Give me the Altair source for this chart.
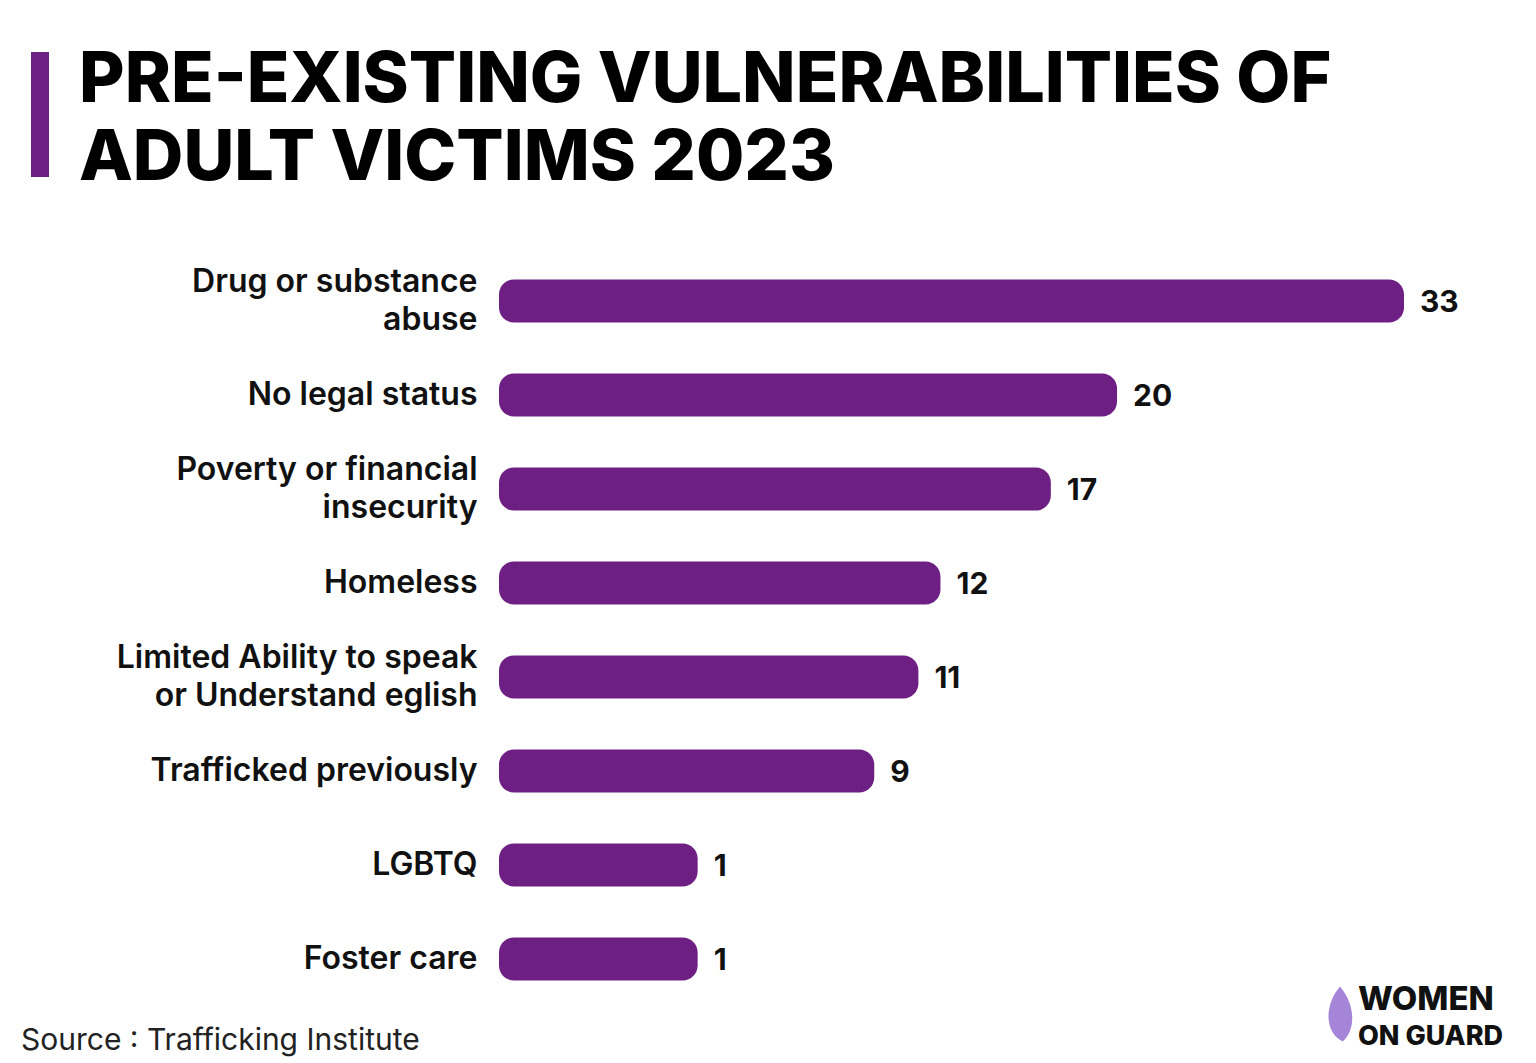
import altair as alt
import pandas as pd

# Chart values
categories = [
    "Drug or substance\nabuse",
    "No legal status",
    "Poverty or financial\ninsecurity",
    "Homeless",
    "Limited Ability to speak\nor Understand eglish",
    "Trafficked previously",
    "LGBTQ",
    "Foster care",
]
counts = [33, 20, 17, 12, 11, 9, 1, 1]

title_lines = ["PRE-EXISTING VULNERABILITIES OF", "ADULT VICTIMS 2023"]
source_text = "Source : Trafficking Institute"

PURPLE = "#6e1f84"
FONT = "Inter"
BASE = -8  # bars start at the left end of the value scale

df = pd.DataFrame({"category": categories, "count": counts})

x_scale = alt.Scale(domain=[BASE, 33], range=[0, 905], nice=False, zero=False)
y_scale = alt.Scale(paddingInner=0.54, paddingOuter=0.27)

LINE_H = 38

y_enc = alt.Y(
    "category:N",
    sort=categories,
    scale=y_scale,
    axis=alt.Axis(
        title=None,
        domain=False,
        ticks=False,
        labelPadding=22,
        labelFont=FONT,
        labelFontSize=32,
        labelFontWeight=600,
        labelColor="#111111",
        labelLimit=470,
        labelLineHeight=LINE_H,
        labelExpr="split(datum.label, '\\n')",
        # two-line labels are centred on their bar
        labelOffset={
            "condition": {"test": "indexof(datum.value, '\\n') >= 0", "value": -LINE_H / 2},
            "value": 0,
        },
    ),
)

bars = alt.Chart(df).mark_bar(color=PURPLE, cornerRadiusEnd=15).encode(
    x=alt.X("count:Q", scale=x_scale, axis=None),
    x2=alt.datum(BASE),
    y=y_enc,
)

values = alt.Chart(df).mark_text(
    align="left", baseline="middle", dx=16, dy=2,
    font=FONT, fontSize=30, fontWeight=700, color="#111111",
).encode(
    x=alt.X("count:Q", scale=x_scale),
    y=alt.Y("category:N", sort=categories, scale=y_scale),
    text=alt.Text("count:Q"),
)

one = pd.DataFrame({"k": [0]})

accent = alt.Chart(one).mark_rect(color=PURPLE).encode(
    x=alt.value(-468), x2=alt.value(-450), y=alt.value(-202), y2=alt.value(-77)
)

title1 = alt.Chart(one).mark_text(
    align="left", baseline="alphabetic", font=FONT, fontSize=70, fontWeight=800, color="#000000"
).encode(x=alt.value(-420), y=alt.value(-152), text=alt.value(title_lines[0]))

title2 = alt.Chart(one).mark_text(
    align="left", baseline="alphabetic", font=FONT, fontSize=70, fontWeight=800, color="#000000"
).encode(x=alt.value(-420), y=alt.value(-74), text=alt.value(title_lines[1]))

source = alt.Chart(one).mark_text(
    align="left", baseline="alphabetic", font=FONT, fontSize=30, fontWeight=400, color="#222222"
).encode(x=alt.value(-478), y=alt.value(796), text=alt.value(source_text))

# Logo
leaf = alt.Chart(one).mark_point(
    filled=True, color="#a585d8", opacity=1,
    shape="M0,-1 C0.55,-0.35 0.6,0.55 0.1,1 C-0.55,0.7 -0.6,-0.3 0,-1 Z",
    size=3000,
).encode(x=alt.value(841), y=alt.value(760))

logo_top = alt.Chart(one).mark_text(
    align="left", baseline="alphabetic", font=FONT, fontSize=33, fontWeight=800, color="#111111"
).encode(x=alt.value(859), y=alt.value(756), text=alt.value("WOMEN"))

logo_guard = alt.Chart(one).mark_text(
    align="left", baseline="alphabetic", font=FONT, fontSize=27, fontWeight=800, color="#111111"
).encode(x=alt.value(859), y=alt.value(791), text=alt.value("ON GUARD"))

chart = alt.layer(
    bars, values, accent, title1, title2, source, leaf, logo_top, logo_guard
).properties(
    width=1037,
    height=752,
    padding={"left": 499, "top": 254, "right": 0, "bottom": 57},
    autosize=alt.AutoSizeParams(type="none"),
    background="#ffffff",
).configure_view(stroke=None)

chart.save("out.html", embed_options={"renderer": "svg", "actions": False})
